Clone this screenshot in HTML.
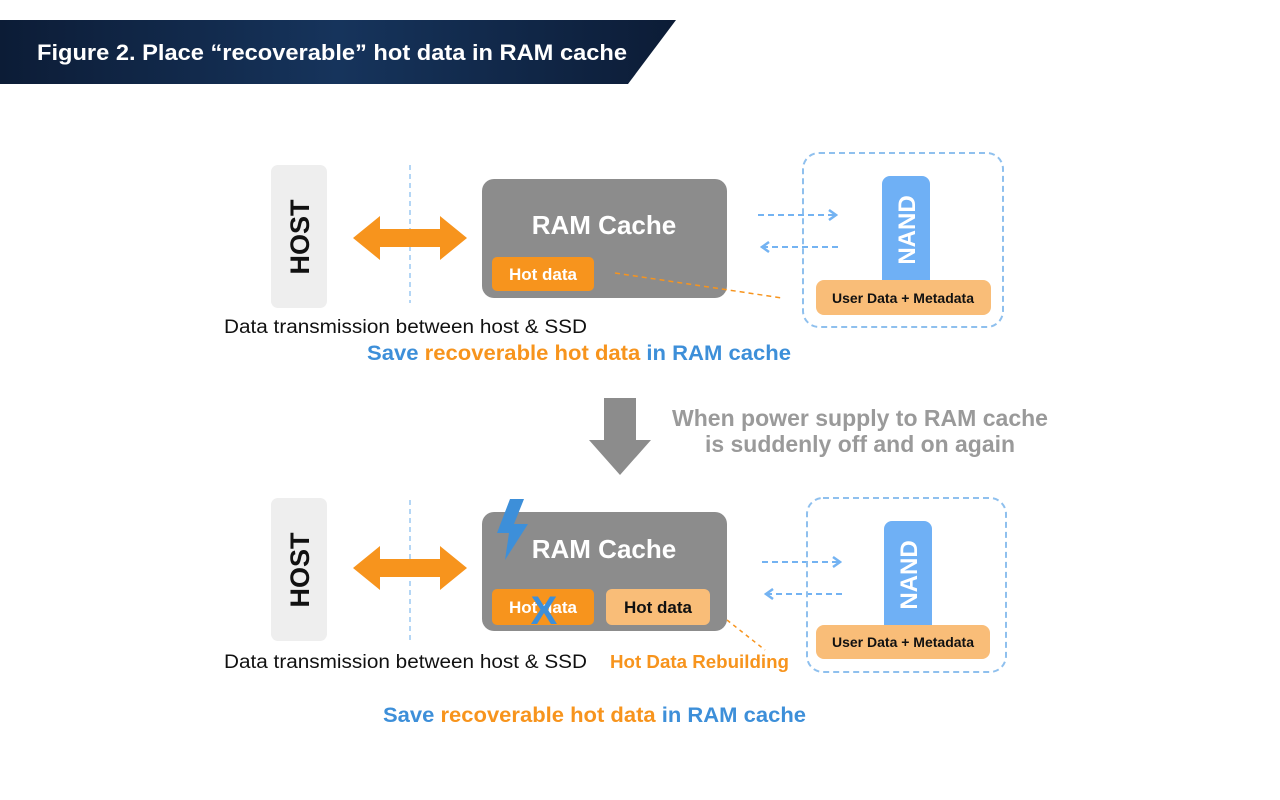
<!DOCTYPE html>
<html><head><meta charset="utf-8"><style>
html,body{margin:0;padding:0;background:#fff;width:1280px;height:800px;overflow:hidden}
svg{display:block;font-family:"Liberation Sans",sans-serif}
</style></head><body>
<svg width="1280" height="800" viewBox="0 0 1280 800" xmlns="http://www.w3.org/2000/svg">
<defs>
<linearGradient id="bg" x1="0" x2="1" y1="0" y2="0">
<stop offset="0" stop-color="#0c1c36"/><stop offset="0.5" stop-color="#16345c"/><stop offset="1" stop-color="#0c1c36"/>
</linearGradient>
<marker id="ab" markerWidth="10" markerHeight="12" refX="8" refY="6" orient="auto" markerUnits="userSpaceOnUse">
<path d="M1,1 L8,6 L1,11" fill="none" stroke="#74b3f2" stroke-width="2.5"/>
</marker>
</defs>
<polygon points="0,20 676,20 628,84 0,84" fill="url(#bg)"/>
<text x="37" y="60" fill="#fff" font-size="22" font-weight="bold" textLength="590" lengthAdjust="spacingAndGlyphs">Figure 2. Place “recoverable” hot data in RAM cache</text>

<!-- Panel 1 -->
<g>
<rect x="271" y="165" width="56" height="143" rx="7" fill="#eeeeee"/>
<text transform="translate(309,237) rotate(-90)" text-anchor="middle" font-size="27" font-weight="bold" fill="#111">HOST</text>
<line x1="410" y1="165" x2="410" y2="303" stroke="#9cc8f2" stroke-width="1.5" stroke-dasharray="5,4"/>
<polygon points="353,238 380,216 380,229 440,229 440,216 467,238 440,260 440,247 380,247 380,260" fill="#f7941d"/>
<rect x="482" y="179" width="245" height="119" rx="12" fill="#8c8c8c"/>
<text x="604" y="234" text-anchor="middle" font-size="26" font-weight="bold" fill="#fff">RAM Cache</text>
<rect x="492" y="257" width="102" height="34" rx="5" fill="#f7941d"/>
<text x="543" y="280" text-anchor="middle" font-size="17" font-weight="bold" fill="#fff">Hot data</text>
<line x1="615" y1="273" x2="782" y2="298" stroke="#f7941d" stroke-width="1.5" stroke-dasharray="5,4"/>
<line x1="758" y1="215" x2="836" y2="215" stroke="#74b3f2" stroke-width="2" stroke-dasharray="6,4" marker-end="url(#ab)"/>
<line x1="838" y1="247" x2="762" y2="247" stroke="#74b3f2" stroke-width="2" stroke-dasharray="6,4" marker-end="url(#ab)"/>
<rect x="803" y="153" width="200" height="174" rx="16" fill="none" stroke="#8fc0ee" stroke-width="2" stroke-dasharray="6,4"/>
<rect x="882" y="176" width="48" height="115" rx="8" fill="#6fb0f5"/>
<text transform="translate(915,230) rotate(-90)" text-anchor="middle" font-size="24" font-weight="bold" fill="#fff">NAND</text>
<rect x="816" y="280" width="175" height="35" rx="8" fill="#f9bd78"/>
<text x="903" y="303" text-anchor="middle" font-size="14" font-weight="bold" fill="#111">User Data + Metadata</text>
<text x="224" y="333" font-size="19" fill="#111" textLength="363" lengthAdjust="spacingAndGlyphs">Data transmission between host &amp; SSD</text>
<text x="367" y="360" font-size="21" font-weight="bold" fill="#3d8fd9" textLength="424" lengthAdjust="spacingAndGlyphs">Save <tspan fill="#f7941d">recoverable hot data</tspan> in RAM cache</text>
</g>

<polygon points="604,398 636,398 636,440 651,440 620,475 589,440 604,440" fill="#8c8c8c"/>
<text x="672" y="426" font-size="23" font-weight="bold" fill="#9a9a9a" textLength="376" lengthAdjust="spacingAndGlyphs">When power supply to RAM cache</text>
<text x="705" y="452" font-size="23" font-weight="bold" fill="#9a9a9a" textLength="310" lengthAdjust="spacingAndGlyphs">is suddenly off and on again</text>

<!-- Panel 2 -->
<g>
<rect x="271" y="498" width="56" height="143" rx="7" fill="#eeeeee"/>
<text transform="translate(309,570) rotate(-90)" text-anchor="middle" font-size="27" font-weight="bold" fill="#111">HOST</text>
<line x1="410" y1="500" x2="410" y2="640" stroke="#9cc8f2" stroke-width="1.5" stroke-dasharray="5,4"/>
<polygon points="353,568 380,546 380,559 440,559 440,546 467,568 440,590 440,577 380,577 380,590" fill="#f7941d"/>
<rect x="482" y="512" width="245" height="119" rx="12" fill="#8c8c8c"/>
<text x="604" y="558" text-anchor="middle" font-size="26" font-weight="bold" fill="#fff">RAM Cache</text>
<polygon points="510,499 524,499 514,524 528,524 505,560 509,533 497,533" fill="#3d8fd9"/>
<rect x="492" y="589" width="102" height="36" rx="5" fill="#f7941d"/>
<text x="543" y="613" text-anchor="middle" font-size="17" font-weight="bold" fill="#fff">Hot data</text>
<text x="544" y="624" text-anchor="middle" font-size="40" font-weight="bold" fill="#3d8fd9">X</text>
<rect x="606" y="589" width="104" height="36" rx="6" fill="#f9bd78"/>
<text x="658" y="613" text-anchor="middle" font-size="17" font-weight="bold" fill="#111">Hot data</text>
<line x1="727" y1="620" x2="765" y2="650" stroke="#f7941d" stroke-width="1.5" stroke-dasharray="4,4"/>
<line x1="762" y1="562" x2="840" y2="562" stroke="#74b3f2" stroke-width="2" stroke-dasharray="6,4" marker-end="url(#ab)"/>
<line x1="842" y1="594" x2="766" y2="594" stroke="#74b3f2" stroke-width="2" stroke-dasharray="6,4" marker-end="url(#ab)"/>
<rect x="807" y="498" width="199" height="174" rx="16" fill="none" stroke="#8fc0ee" stroke-width="2" stroke-dasharray="6,4"/>
<rect x="884" y="521" width="48" height="115" rx="8" fill="#6fb0f5"/>
<text transform="translate(917,575) rotate(-90)" text-anchor="middle" font-size="24" font-weight="bold" fill="#fff">NAND</text>
<rect x="816" y="625" width="174" height="34" rx="8" fill="#f9bd78"/>
<text x="903" y="647" text-anchor="middle" font-size="14" font-weight="bold" fill="#111">User Data + Metadata</text>
<text x="224" y="668" font-size="19" fill="#111" textLength="363" lengthAdjust="spacingAndGlyphs">Data transmission between host &amp; SSD</text>
<text x="610" y="668" font-size="18" font-weight="bold" fill="#f7941d" textLength="179" lengthAdjust="spacingAndGlyphs">Hot Data Rebuilding</text>
<text x="383" y="722" font-size="21" font-weight="bold" fill="#3d8fd9" textLength="423" lengthAdjust="spacingAndGlyphs">Save <tspan fill="#f7941d">recoverable hot data</tspan> in RAM cache</text>
</g>
</svg>
</body></html>
